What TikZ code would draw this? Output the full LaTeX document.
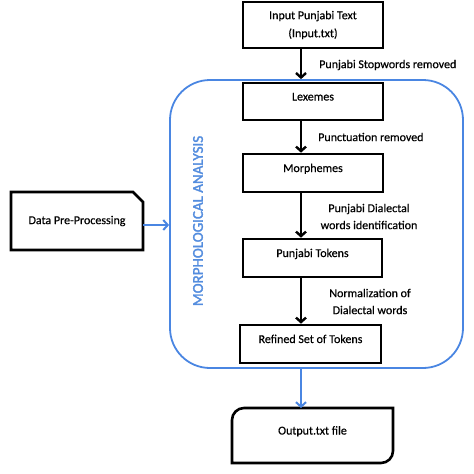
\documentclass[tikz,border=0pt]{standalone}
\usepackage{fontspec}
\setmainfont{Carlito}[FakeBold=0.5]
\newfontfamily\vfont{Carlito}[FakeBold=2.0]
\usetikzlibrary{arrows.meta,calc}
\definecolor{frameblue}{RGB}{74,134,226}
\definecolor{textblue}{RGB}{84,141,222}
\newcommand\liftt[1]{\raisebox{1pt}[0pt][0pt]{#1}}
\begin{document}
\begin{tikzpicture}[x=1pt,y=-1pt,
  bx/.style={draw=black, line width=2.6pt, minimum width=140pt, inner sep=0pt,
    font=\fontsize{12}{17}\selectfont, align=center},
  arr/.style={line width=2.4pt, -{Straight Barb[length=4.5pt,width=10pt]}},
  barr/.style={draw=frameblue, line width=2pt, -{Straight Barb[length=4.5pt,width=10pt]}},
  lbl/.style={font=\fontsize{12}{17}\selectfont, align=center, inner sep=0pt}]
\path[use as bounding box] (0,0) rectangle (474,474);
\coordinate (ax) at (301,0);
% frame
\node[draw=frameblue, line width=1.8pt, rounded corners=40pt, minimum width=293pt,
  minimum height=288pt, inner sep=0pt] (frame) at (316.5,224) {};
\node[rotate=90, text=textblue, font=\vfont\fontsize{15}{18}\selectfont, inner sep=0pt] (ma) at (198,221) {MORPHOLOGICAL ANALYSIS};
% boxes
\node[bx, minimum height=46pt, font=\fontsize{12}{18}\selectfont] (in) at (313,25) {Input Punjabi Text\\(Input.txt)};
\node[bx, minimum height=37pt] (lex) at (313,101.5) {\liftt{Lexemes}};
\node[bx, minimum height=38pt] (mor) at (313,173) {\liftt{Morphemes}};
\node[bx, minimum height=38pt, minimum width=139pt] (tok) at (312.5,258) {\liftt{Punjabi Tokens}};
\node[bx, minimum height=38pt, minimum width=141pt] (ref) at (310.5,344) {\liftt{Refined Set of Tokens}};
\node[bx, draw=none, outer sep=0pt, minimum width=161pt, minimum height=55pt] (out) at (312.5,435.5) {\liftt{Output.txt file}};
\draw[line width=2.6pt] (out.west) [rounded corners=12pt] -- (out.north west) -- (out.north)
  [sharp corners] -- (out.north east) -- (out.east)
  [rounded corners=12pt] -- (out.south east) -- (out.south)
  [sharp corners] -- (out.south west) -- cycle;
\node[bx, draw=none, outer sep=0pt, minimum width=132pt, minimum height=58pt] (data) at (77,221) {Data Pre-Processing};
\draw[line width=2.6pt, line join=miter] (data.south west) -- (data.north west) -- ([xshift=-10pt]data.north east)
  -- ([yshift=-10pt]data.north east) -- (data.south east) -- cycle;
% labels
\node[lbl, anchor=west] (l1) at (319,65) {Punjabi Stopwords removed};
\node[lbl, anchor=west] (l2) at (318,137) {Punctuation removed};
\node[lbl] (l3) at (369,216.5) {Punjabi Dialectal\\words identification};
\node[lbl] (l4) at (370,301.5) {Normalization of\\Dialectal words};
% arrows
\draw[arr] (in.south -| ax) -- (frame.north -| ax);
\draw[arr] (lex.south -| ax) -- (mor.north -| ax);
\draw[arr] (mor.south -| ax) -- (tok.north -| ax);
\draw[arr] (tok.south -| ax) -- (ref.north -| ax);
\draw[barr] (frame.south -| ax) -- (out.north -| ax);
\draw[barr] ([yshift=-4pt]data.east) -- ([yshift=-4pt]data.east -| frame.west);
\end{tikzpicture}
\end{document}
